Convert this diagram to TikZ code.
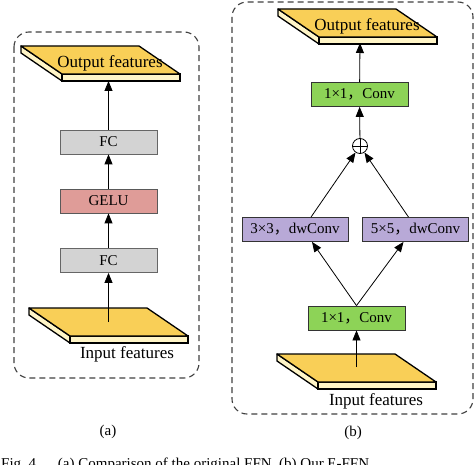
\documentclass[tikz,border=0pt]{standalone}
\usepackage{fontspec}
\setmainfont{Liberation Serif}
\newfontfamily\cjk{Noto Sans CJK SC}
\usetikzlibrary{arrows.meta}

\definecolor{slabtop}{HTML}{F9CF57}
\definecolor{slabside}{HTML}{FFF5C7}
\definecolor{fcgray}{HTML}{D3D3D3}
\definecolor{gelured}{HTML}{DF9C98}
\definecolor{convgreen}{HTML}{8DD357}
\definecolor{dwpurple}{HTML}{B8A9D7}

\tikzset{
	blk/.style={draw=#1, line width=.8pt, minimum width=97pt, minimum height=24pt, inner sep=0pt, font=\fontsize{15}{18}\selectfont},
	fcbox/.style={blk=black!60, fill=fcgray},
	gelubox/.style={blk=black!65, fill=gelured},
	convbox/.style={blk=black!80, fill=convgreen},
	dwbox/.style={blk=black!80, fill=dwpurple, minimum width=106pt},
	flow/.style={line width=.8pt, -{Triangle[width=8pt,length=10pt]}},
	panel/.style={draw=black!75, line width=1.1pt, dash pattern=on 6pt off 4pt, rounded corners=15pt},
	slabtxt/.style={font=\fontsize{17}{20}\selectfont, inner sep=0pt},
	captxt/.style={font=\fontsize{15}{18}\selectfont, inner sep=0pt}
}

% feature slab: name, x and y of its back left corner
\newcommand{\featslab}[3]{%
	\draw[line width=1.3pt, fill=slabside, line join=round](#2,#3) -- ++(41,28) -- ++(0,7) -- ++(-41,-28) -- cycle;
	\draw[line width=1.3pt, fill=slabside](#2+41,#3+28) rectangle ++(118,7);
	\draw[line width=1.3pt, fill=slabtop, line join=round](#2,#3) -- ++(118,0) -- ++(41,28) -- ++(-118,0) -- cycle;
	\coordinate (#1) at (#2+79.5,#3+14);
	\coordinate (#1-b) at (#2+79.5,#3+36);
}

\begin{document}
\begin{tikzpicture}[x=1pt, y=-1pt]
	\useasboundingbox (0,0) rectangle (474,465);

	% (a) original FFN
	\draw[panel](14, 32) rectangle (199, 378);
		\featslab{outa}{21}{46}
		\node[slabtxt] at(110, 63){Output features};

		\node[fcbox] (fcup) at(108.5, 142){FC};
		\node[gelubox] (gelu) at(108.5, 201){GELU};
		\node[fcbox] (fcdn) at(108.5, 260.5){FC};

		\featslab{ina}{29}{308}
		\node[slabtxt] (inatxt) at(127, 354){Input features};

		\coordinate (outa-in) at(108.5, 81);
		\coordinate (ina-in) at(108.5, 322);
		\draw[flow](fcup) to (outa-in);
		\draw[flow](gelu) to (fcup);
		\draw[flow](fcdn) to (gelu);
		\draw[flow](ina-in) to (fcdn);

	\node[captxt] (laba) at(108, 432){(a)};

	% (b) E-FFN
	\draw[panel](232, 2) rectangle (473, 414);
		\featslab{outb}{278}{9}
		\node[slabtxt] at(367, 26){Output features};

		\node[convbox] (convup) at(359.5, 94.5){1×1{\cjk ，}Conv};
		\node[draw, circle, line width=.8pt, minimum size=15pt, inner sep=0pt] (plus) at(360, 146){};
		\draw[line width=.8pt](plus.north) to (plus.south);
		\draw[line width=.8pt](plus.west) to (plus.east);

		\node[dwbox] (dwthree) at(295, 229.5){3×3{\cjk ，}dwConv};
		\node[dwbox] (dwfive) at(415.5, 229.5){5×5{\cjk ，}dwConv};

		\node[convbox] (convdn) at(356.5, 318){1×1{\cjk ，}Conv};

		\featslab{inb}{277}{354}
		\node[slabtxt] (inbtxt) at(376, 401){Input features};

		\coordinate (outb-in) at(360, 43);
		\coordinate (inb-in) at(356.5, 367);
		\draw[flow](convup) to (outb-in);
		\draw[flow](plus) to (convup);
		\draw[flow]([xshift=16pt]dwthree.north) to (plus);
		\draw[flow]([xshift=-7pt]dwfive.north) to (plus);
		\draw[flow](convdn.north) to ([xshift=17pt]dwthree.south);
		\draw[flow](convdn.north) to ([xshift=-12pt]dwfive.south);
		\draw[flow](inb-in) to (convdn);

	\node[captxt] (labb) at(353, 433){(b)};

	\node[captxt, anchor=base west] (caption) at(1, 468){Fig.~4.\hspace{1.2em}(a) Comparison of the original FFN. (b) Our E-FFN.};
\end{tikzpicture}
\end{document}
